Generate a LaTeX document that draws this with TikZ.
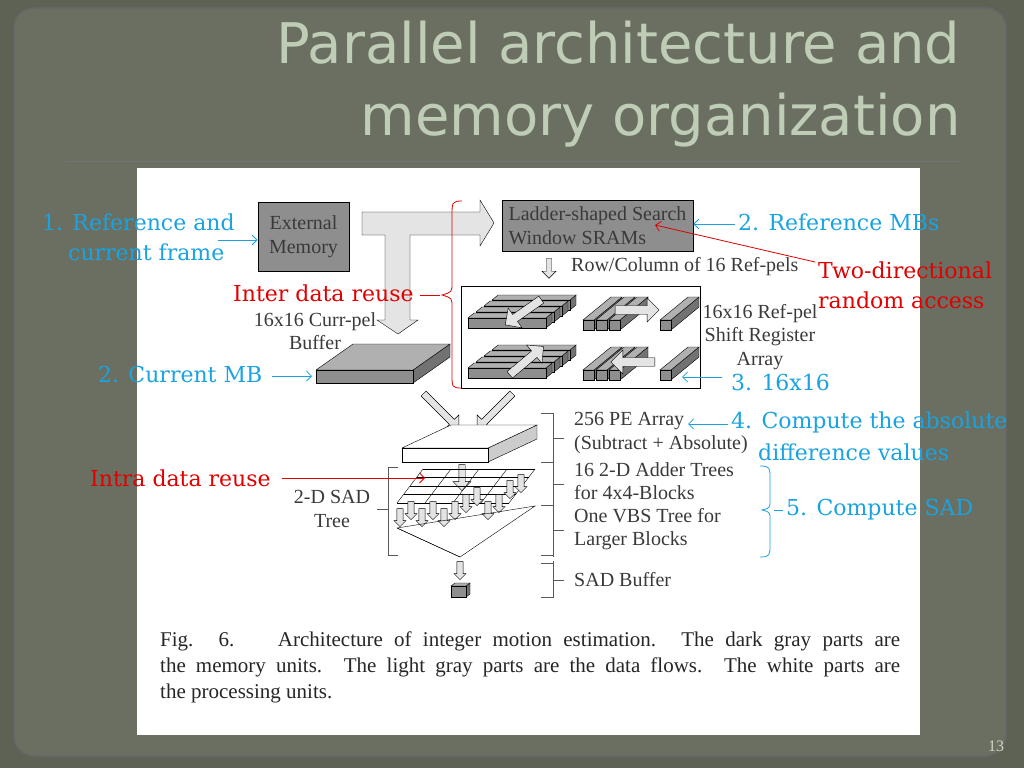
\documentclass[tikz,border=0pt]{standalone}
\usepackage{fontspec}
\setmainfont{Liberation Serif}
\newfontfamily\titlefont{DejaVu Sans}
\newfontfamily\annfont{DejaVu Serif}
\usetikzlibrary{arrows.meta,positioning,shapes.arrows}
\definecolor{slidebg}{HTML}{5E6254}
\definecolor{panelbg}{HTML}{6B6F61}
\definecolor{titlecol}{HTML}{BFCDB6}
\definecolor{annblue}{HTML}{1AA3E0}
\definecolor{annred}{HTML}{E00000}
\definecolor{memgray}{HTML}{8E8E8E}
\definecolor{flowgray}{HTML}{E4E4E4}
\definecolor{figtext}{HTML}{3A3A3A}
\newcommand\cuboid[7]{% x y w h dx dy fill
  \filldraw[fill=#7!80!black] (#1+#3,#2) -- ++(#5,-#6) -- ++(0,#4) -- (#1+#3,#2+#4) -- cycle;
  \filldraw[fill=#7!70!white] (#1,#2) -- ++(#5,-#6) -- ++(#3,0) -- (#1+#3,#2) -- cycle;
  \filldraw[fill=#7] (#1,#2) rectangle ++(#3,#4);}
\begin{document}
\begin{tikzpicture}[x=1pt,y=-1pt,
    figlabel/.style={text=figtext,font=\fontsize{20}{23.5}\selectfont,inner sep=1pt},
    annot/.style={font=\annfont\fontsize{22}{30}\selectfont,inner sep=0pt,anchor=west},
    blue arrow/.style={annblue,thick,-{Straight Barb[length=5pt]}},
    red arrow/.style={annred,thick,-{Straight Barb[length=5pt]}},
    flow/.style={single arrow,draw=black,fill=flowgray,thin,inner sep=2pt,
      single arrow head extend=4pt,minimum width=20pt},
    brack/.style={gray!70!black,thick}
    ]
    \useasboundingbox (0,0) rectangle (1024,768);
    \fill[slidebg] (0,0) rectangle (1024,768);
    \filldraw[fill=panelbg,draw=black!60,line width=1.5pt,rounded corners=20pt] (14,8) rectangle (1006,756);

    % title
    \node[anchor=east,align=right,text=titlecol,font=\titlefont\fontsize{56}{72}\selectfont] (title) at (964,84)
      {Parallel architecture and\\memory organization};
    \draw[black!55,line width=1pt] (66,161) -- (962,161);
    \node[text=titlecol!80,font=\fontsize{16}{18}\selectfont] (page) at (996,746) {13};

    % figure area
    \fill[white] (137,168) rectangle (920,735);

    % memories
    \node[draw,thick,fill=memgray,figlabel,minimum width=91pt,minimum height=69pt,align=center] (ext) at (303.5,236.5) {External\\Memory};
    \node[draw,thick,fill=memgray,figlabel,minimum width=191pt,minimum height=51pt,align=left] (sram) at (597.5,225.5) {Ladder-shaped Search\\Window SRAMs};
    % T-shaped data flow
    \filldraw[fill=flowgray] (362,212) -- (480,212) -- (480,200) -- (494,223) -- (480,246) -- (480,235)
      -- (410,235) -- (410,320) -- (418,320) -- (398,334) -- (377,320) -- (385,320) -- (385,235) -- (362,235) -- cycle;
    \node[flow,rotate=-90,minimum height=20pt,minimum width=14pt] (rowarr) at (549,267) {};
    \node[figlabel,anchor=west] (rowlab) at (570,267) {Row/Column of 16 Ref-pels};

    % shift register array
    \node[draw,thick,minimum width=239pt,minimum height=102pt] (reg) at (580.5,337) {};
    \foreach \i in {3,2,1,0} {
      \cuboid{468+8*\i}{318-6*\i}{78}{10}{6}{5}{memgray}
      \cuboid{468+8*\i}{368-6*\i}{78}{10}{6}{5}{memgray}}
    \foreach \xx in {583,596,609,660} {
      \cuboid{\xx}{320}{11}{10}{28}{23}{memgray}
      \cuboid{\xx}{370}{11}{10}{28}{23}{memgray}}
    \node[flow,rotate=-145,minimum height=44pt,minimum width=24pt] (a1) at (525,311) {};
    \node[flow,rotate=0,minimum height=44pt,minimum width=24pt] (a2) at (635,310) {};
    \node[flow,rotate=40,minimum height=44pt,minimum width=24pt] (a3) at (525,362) {};
    \node[flow,rotate=180,minimum height=44pt,minimum width=24pt] (a4) at (635,362) {};
    \node[figlabel,align=center] (reglab) at (760,337) {16x16 Ref-pel\\Shift Register\\Array};

    % current-pel buffer
    \cuboid{316}{370}{97}{13}{37}{26}{memgray}
    \node[figlabel,align=center] (curlab) at (315,331) {16x16 Curr-pel\\Buffer};

    % PE array
    \node[flow,rotate=-45,minimum height=50pt] (pe1) at (440,410) {};
    \node[flow,rotate=-135,minimum height=50pt] (pe2) at (496,410) {};
    \cuboid{402}{448}{86}{14}{49}{23}{white}
    \node[flow,rotate=-90,minimum height=26pt,minimum width=18pt] (pe3) at (462,476) {};

    % adder tree grid
    \foreach \j in {0,...,4} {
      \draw (423-6.5*\j,469+8.5*\j) -- ++(112,0);
      \draw (423+28*\j,469) -- ++(-26,34);}
    \foreach \xx/\yy in {400/516,420/509,440/516,460/509,480/516,500/509,520/502,540/495,560/509,580/502,600/488,620/482} {
      \node[flow,rotate=-90,minimum height=18pt,minimum width=12pt,single arrow head extend=2pt] at (\xx*0.55+180,\yy) {};}
    \draw (397,528) -- (535,506) -- (460,557) -- cycle;
    \draw (397,528) -- (460,557);
    \node[flow,rotate=-90,minimum height=18pt,minimum width=12pt,single arrow head extend=2pt] (sadarr) at (460,569) {};
    \cuboid{451}{586}{15}{11}{4}{3}{memgray}

    % brackets and labels
    \draw[brack] (541,413) -- (553,413) -- (553,597) -- (541,597);
    \foreach \yy in {462,505,555,563} \draw[brack] (541,\yy) -- (553,\yy);
    \draw[brack,white,line width=3pt] (553,557) -- (553,561);
    \foreach \yy in {438,484,530,580} \draw[brack] (553,\yy) -- (564,\yy);
    \draw[brack] (398,467) -- (388,467) -- (388,555) -- (398,555);
    \draw[brack] (388,509) -- (377,509);
    \node[figlabel,anchor=west,align=left] (pelab) at (573,433) {256 PE Array\\(Subtract + Absolute)};
    \node[figlabel,anchor=west,align=left] (addlab) at (573,481) {16 2-D Adder Trees\\for 4x4-Blocks};
    \node[figlabel,anchor=west,align=left] (vbslab) at (573,529) {One VBS Tree for\\Larger Blocks};
    \node[figlabel,anchor=west] (sadlab) at (573,580) {SAD Buffer};
    \node[figlabel,align=center] (treelab) at (332,509) {2-D SAD\\Tree};

    % caption
    \node[anchor=north west,text width=740pt,align=justify,text=black!85,font=\fontsize{21}{26}\selectfont,inner sep=0pt] (caption) at (160,632)
      {Fig. 6.\quad\ \ Architecture of integer motion estimation. The dark gray parts are\linebreak the memory units. The light gray parts are the data flows. The white parts are\linebreak the processing units.};

    % annotations
    \node[annot,text=annblue,align=left] (ann1) at (42,237) {1. Reference and\\\hspace*{26pt}current frame};
    \coordinate (ann1e) at (218,240);
    \draw[blue arrow] (ann1e) -- (ext.west |- ann1e);
    \node[annot,text=annblue] (ann2) at (738,222) {2. Reference MBs};
    \draw[blue arrow] (ann2.west) ++(-3,2) -- (sram.east |- 0,224);
    \node[annot,text=annblue] (ann2b) at (98,374) {2. Current MB};
    \draw[blue arrow] (272,376) -- (312,376);
    \node[annot,text=annblue] (ann3) at (731,382) {3. 16x16};
    \draw[blue arrow] (722,377) -- (682,377);
    \node[annot,text=annblue] (ann4) at (731,422) {4. Compute the absolute};
    \node[annot,text=annblue] (ann4b) at (758,452) {difference values};
    \draw[blue arrow] (ann4.west) ++(-3,2) -- (688,424);
    \draw[annblue,thick] (760,466) .. controls (770,466) and (770,468) .. (770,478) -- (770,500)
      .. controls (770,508) .. (762,510) .. controls (770,512) .. (770,520) -- (770,545)
      .. controls (770,555) and (770,557) .. (760,557);
    \node[annot,text=annblue] (ann5) at (786,510) {5. Compute SAD};
    \draw[annblue,thick] (774,510) -- (783,510);

    \node[annot,text=annred,align=left] (ann6) at (818,285) {Two-directional\\random access};
    \draw[red arrow] (815,262) -- (655,225);
    \node[annot,text=annred] (ann7) at (233,293) {Inter data reuse};
    \draw[annred,thick] (420,295) -- (440,295);
    \draw[annred,thick] (462,201) .. controls (452,201) and (452,203) .. (452,215) -- (452,283)
      .. controls (452,292) .. (442,295) .. controls (452,298) .. (452,307) -- (452,375)
      .. controls (452,387) and (452,388) .. (462,388);
    \node[annot,text=annred] (ann8) at (90,478) {Intra data reuse};
    \draw[red arrow] (282,478) -- (425,478);
\end{tikzpicture}
\end{document}
